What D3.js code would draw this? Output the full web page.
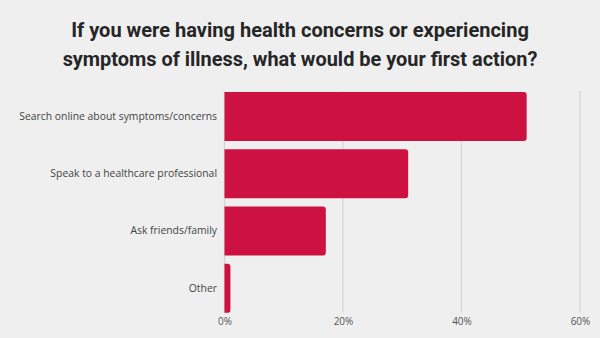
<!DOCTYPE html>
<html><head><meta charset="utf-8">
<script src="https://cdn.jsdelivr.net/npm/d3@7"></script>
<style>
html,body{margin:0;padding:0;background:#efefef;}
svg{display:block;font-family:"Open Sans",Lato,sans-serif;}
</style></head>
<body>
<svg id="chart" width="600" height="338"></svg>
<script>
const titleLines = ["If you were having health concerns or experiencing", "symptoms of illness, what would be your first action?"];
const categories = ["Search online about symptoms/concerns", "Speak to a healthcare professional", "Ask friends/family", "Other"];
const values = [51, 31, 17.1, 1];
const tickValues = [0, 20, 40, 60];

const svg = d3.select("#chart");
svg.append("rect").attr("width", 600).attr("height", 338).attr("fill", "#efefef");

const x = d3.scaleLinear().domain([0, 60]).range([224.5, 580]);
const y = d3.scaleBand().domain(categories).range([87.8, 317]).paddingInner(0.145).paddingOuter(0.0725);

// title
const tw = [458, 475];
const tb = [37, 66];
titleLines.forEach((t, i) => {
  const el = svg.append("text").attr("x", 300).attr("y", tb[i]).attr("text-anchor", "middle")
    .attr("font-size", 22).attr("font-weight", 700).attr("fill", "#262626")
    .attr("font-family", "Roboto, sans-serif").text(t);
  const w = el.node().getComputedTextLength();
  el.attr("font-size", 22 * tw[i] / w);
});

// gridlines
svg.append("g").selectAll("line").data(tickValues).join("line")
  .attr("x1", d => x(d)).attr("x2", d => x(d))
  .attr("y1", 91).attr("y2", 312.5)
  .attr("stroke", "#d4d4d4").attr("stroke-width", 1.2);

// x axis
const xAxis = d3.axisBottom(x).tickValues(tickValues).tickFormat(d => d + "%").tickSize(0).tickPadding(0);
const ax = svg.append("g").attr("transform", "translate(0,318)").call(xAxis);
ax.select(".domain").remove();
ax.selectAll("text").attr("font-size", 10).attr("fill", "#555").attr("dy", "0.71em")
  .attr("font-family", "'Open Sans', sans-serif");

// bars with right rounded corners
const r = 3;
function barPath(d, i) {
  const x0 = x(0), x1 = x(values[i]), y0 = y(d), h = y.bandwidth();
  const rr = Math.min(r, (x1 - x0) / 2);
  return `M${x0},${y0}H${x1 - rr}Q${x1},${y0} ${x1},${y0 + rr}V${y0 + h - rr}Q${x1},${y0 + h} ${x1 - rr},${y0 + h}H${x0}Z`;
}
svg.append("g").selectAll("path").data(categories).join("path")
  .attr("d", (d, i) => barPath(d, i)).attr("fill", "#cd1141");

// y axis labels
const yAxis = d3.axisLeft(y).tickSize(0).tickPadding(7.5);
const ay = svg.append("g").attr("transform", `translate(${x(0)},0)`).call(yAxis);
ay.select(".domain").remove();
const labels = ay.selectAll("text").attr("font-size", 10.5).attr("fill", "#444")
  .attr("font-family", "'Open Sans', sans-serif");
const w0 = labels.nodes()[0].getComputedTextLength();
labels.attr("font-size", 10.5 * 198 / w0);
</script>
</body></html>
